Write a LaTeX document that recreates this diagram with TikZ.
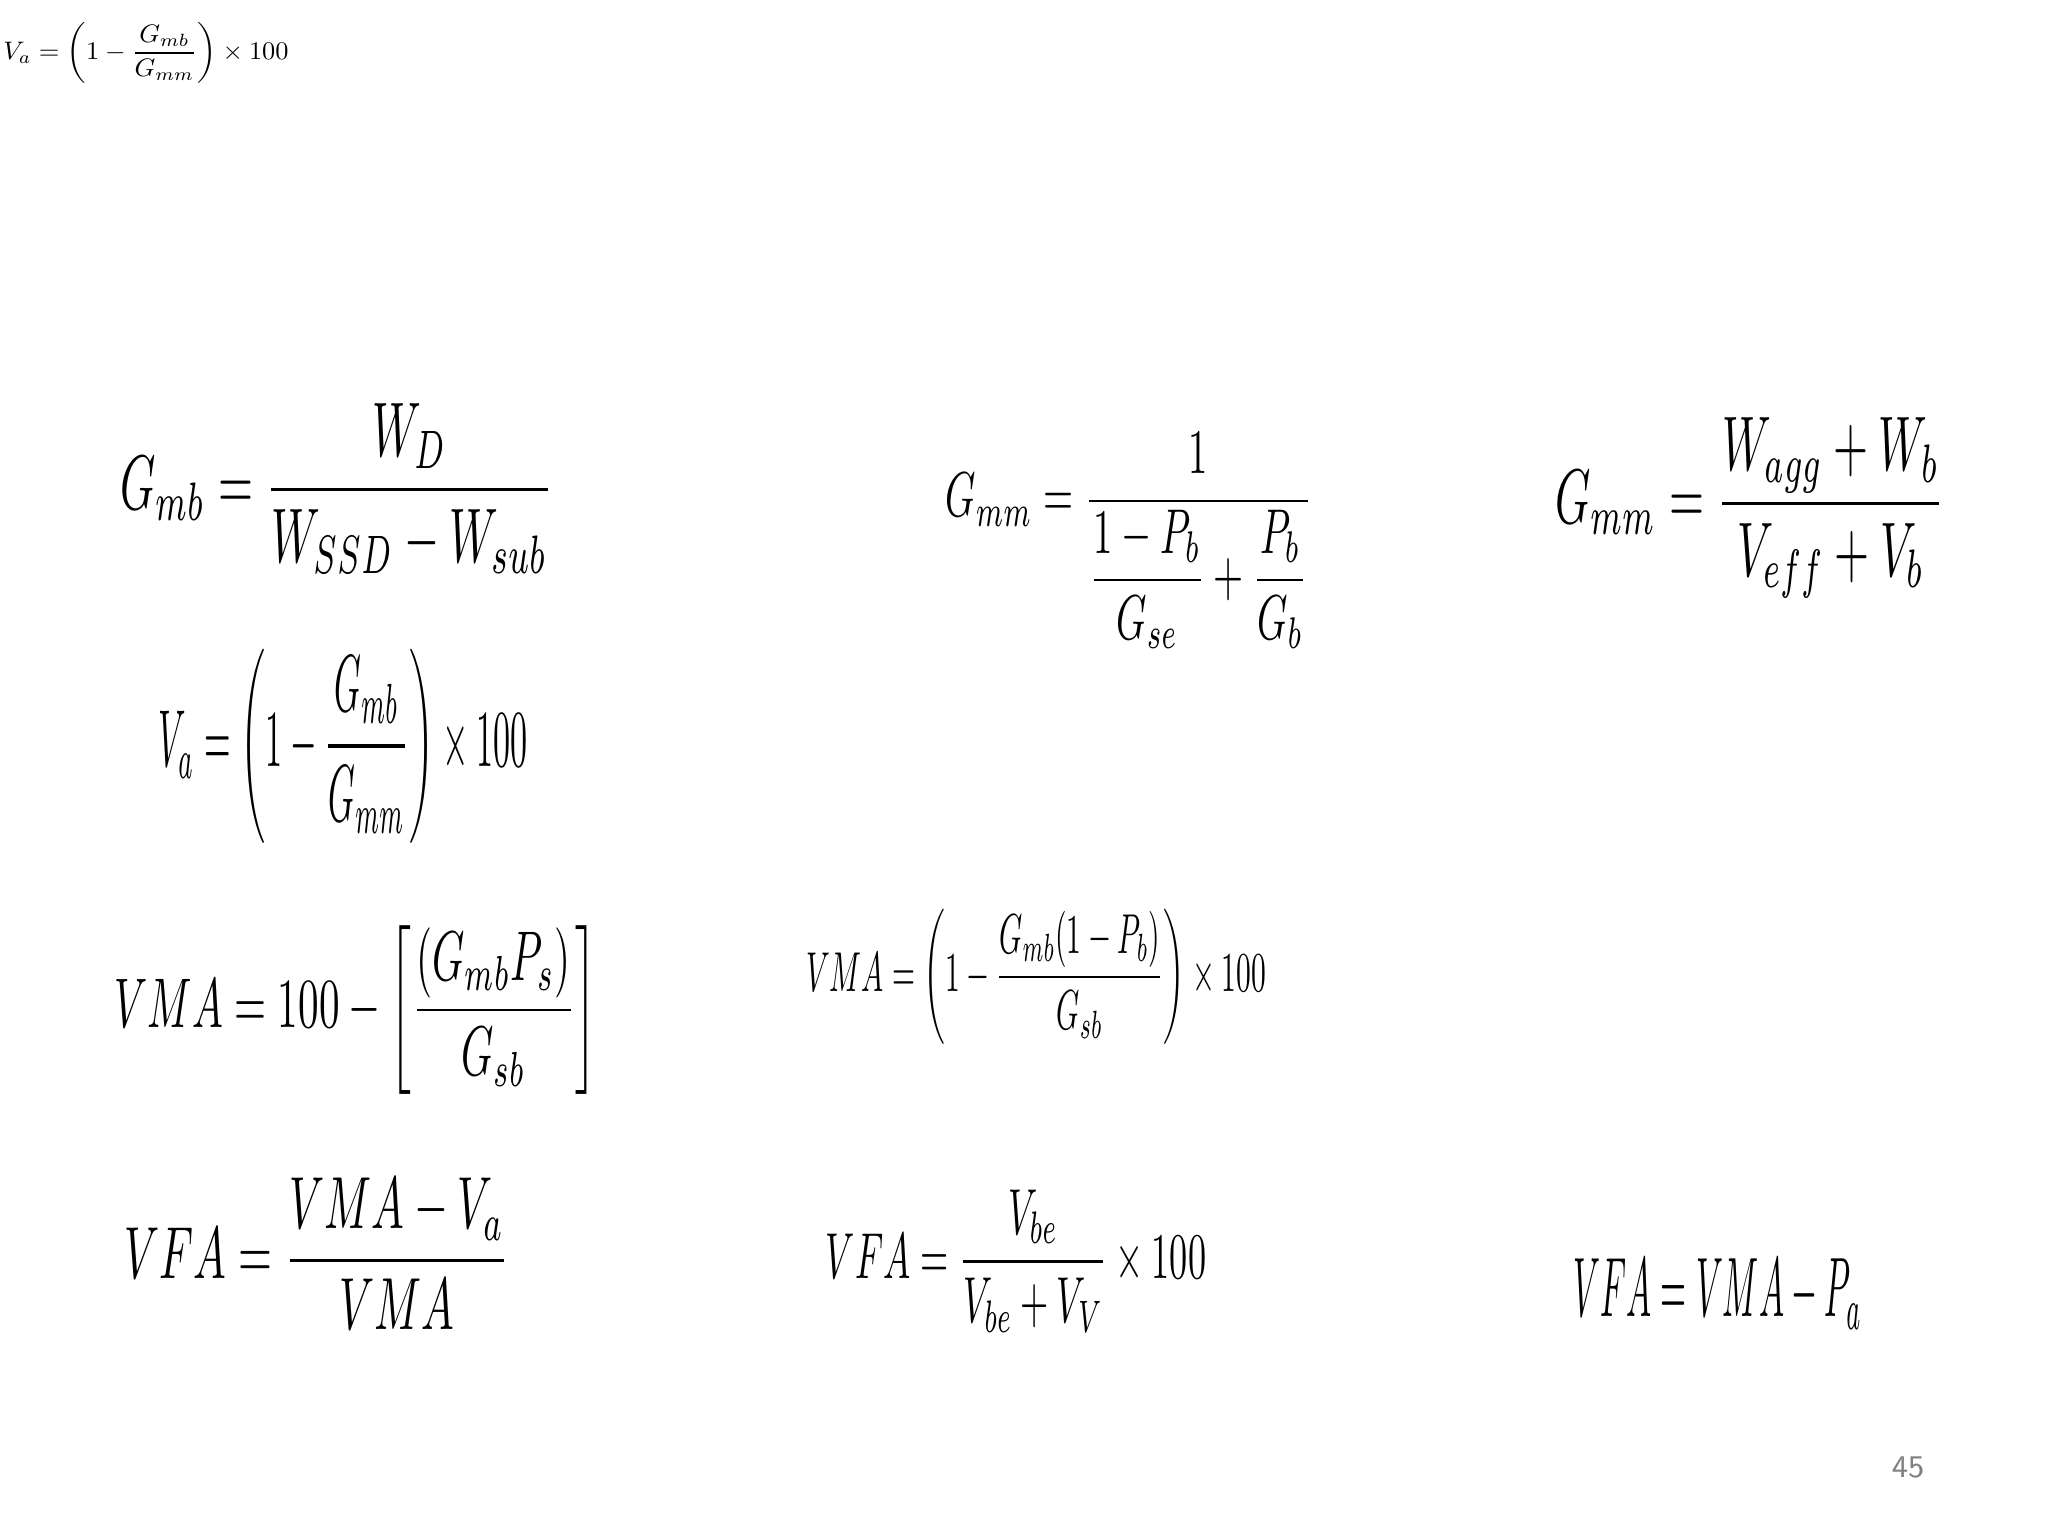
\documentclass[tikz,border=0pt]{standalone}
\usepackage{amsmath}
\usepackage{graphicx}
\tikzset{eq/.style={inner sep=0pt, anchor=center}}
\newcommand{\eqsc}[3]{\scalebox{#1}[#2]{#3}}
\begin{document}
\begin{tikzpicture}[x=0.01cm,y=-0.01cm]
\useasboundingbox[fill=white] (0,0) rectangle (2048,1536);
\node[eq] (t) at (146,53) {\eqsc{0.75}{0.72}{$V_a=\left(1-\dfrac{G_{mb}}{G_{mm}}\right)\times 100$}};
\node[eq] (a) at (337,489) {\eqsc{1.28}{2.2}{$G_{mb}=\dfrac{W_D}{W_{SSD}-W_{sub}}$}};
\node[eq] (b) at (1129,541) {\eqsc{1.1}{1.8}{$G_{mm}=\dfrac{1}{\dfrac{1-P_b}{G_{se}}+\dfrac{P_b}{G_b}}$}};
\node[eq] (c) at (1750,508) {\eqsc{1.28}{2.2}{$G_{mm}=\dfrac{W_{agg}+W_b}{V_{eff}+V_b}$}};
\node[eq] (d) at (343,746) {\eqsc{0.97}{2.3}{$V_a=\left(1-\dfrac{G_{mb}}{G_{mm}}\right)\times 100$}};
\node[eq] (e) at (356,1010) {\eqsc{1.17}{2.0}{$VMA=100-\left[\dfrac{(G_{mb}P_s)}{G_{sb}}\right]$}};
\node[eq] (f) at (1036,977) {\eqsc{0.84}{1.6}{$VMA=\left(1-\dfrac{G_{mb}(1-P_b)}{G_{sb}}\right)\times 100$}};
\node[eq] (g) at (317,1254) {\eqsc{1.24}{2.1}{$VFA=\dfrac{VMA-V_a}{VMA}$}};
\node[eq] (h) at (1016,1261) {\eqsc{1.03}{1.85}{$VFA=\dfrac{V_{be}}{V_{be}+V_V}\times 100$}};
\node[eq] (i) at (1718,1294) {\eqsc{0.95}{2.4}{$VFA=VMA-P_a$}};
\node[eq,text=gray] (n) at (1908,1467) {\sffamily\fontsize{9}{9}\selectfont 45};
\end{tikzpicture}
\end{document}
